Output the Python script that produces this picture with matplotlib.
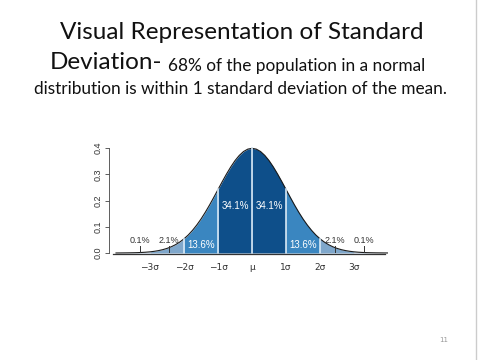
import matplotlib.pyplot as plt
import numpy as np

# density of the curve, x in sigma units (left half, mirrored)
x_half = [0.0, 0.125, 0.25, 0.375, 0.5, 0.625, 0.75, 0.875, 1.0, 1.125, 1.25, 1.375,
          1.5, 1.625, 1.75, 1.875, 2.0, 2.125, 2.25, 2.375, 2.5, 2.625, 2.75, 2.875,
          3.0, 3.125, 3.25, 3.375, 3.5, 3.625, 3.75, 3.875, 4.0]
y_half = [0.3989, 0.3958, 0.3867, 0.3718, 0.3521, 0.3281, 0.3011, 0.2721, 0.242, 0.2119,
          0.1826, 0.155, 0.1295, 0.1066, 0.0863, 0.0687, 0.054, 0.0417, 0.0317, 0.0237,
          0.0175, 0.0127, 0.0091, 0.0064, 0.0044, 0.003, 0.002, 0.0013, 0.0009, 0.0006,
          0.0004, 0.0002, 0.0001]

# shaded bands (sigma limits) and their colours
band_lo = [-4, -3, -2, -1, 0, 1, 2, 3]
band_hi = [-3, -2, -1, 0, 1, 2, 3, 4]
band_col = ["#b3c8dd", "#7fa7cb", "#3a86c0", "#0e4f8a", "#0e4f8a", "#3a86c0", "#7fa7cb", "#b3c8dd"]

tick_pos = [-3, -2, -1, 0, 1, 2, 3]
tick_lab = ["\u22123\u03c3", "\u22122\u03c3", "\u22121\u03c3", "\u03bc", "1\u03c3", "2\u03c3", "3\u03c3"]

pct_inside = ["13.6%", "34.1%", "34.1%", "13.6%"]
pct_inside_x = [-1.5, -0.5, 0.5, 1.5]
pct_inside_y = [0.03, 0.18, 0.18, 0.03]
pct_out = ["0.1%", "2.1%", "2.1%", "0.1%"]
pct_out_x = [-3.3, -2.45, 2.45, 3.3]

xs = np.array([-v for v in x_half[:0:-1]] + x_half)
ys = np.array(y_half[:0:-1] + y_half)

fig = plt.figure(figsize=(4.8, 3.6), dpi=100)
fig.patch.set_facecolor("white")

# slide text
fig.text(0.503, 0.91, "Visual Representation of Standard", ha="center", va="center",
         fontsize=17.5, family="Lato", color="#111111")
fig.text(0.339, 0.826, "Deviation-", ha="right", va="center",
         fontsize=17.5, family="Lato", color="#111111")
fig.text(0.351, 0.818, "68% of the population in a normal", ha="left", va="center",
         fontsize=12.4, family="Lato", color="#111111")
fig.text(0.502, 0.752, "distribution is within 1 standard deviation of the mean.", ha="center",
         va="center", fontsize=12.4, family="Lato", color="#111111")
fig.text(0.925, 0.055, "11", ha="center", va="center", fontsize=5, color="#999999")
fig.add_artist(plt.Line2D([0.992, 0.992], [0, 1], color="#cccccc", lw=1))

ax = fig.add_axes([0.2275, 0.2936, 0.581, 0.3025])
for lo, hi, c in zip(band_lo, band_hi, band_col):
    m = (xs >= lo) & (xs <= hi)
    ax.fill_between(xs[m], 0, ys[m], color=c, lw=0)
ax.plot(xs, ys, color="#1a1a1a", lw=0.8)

# separators
for b in [-2, -1, 0, 1, 2]:
    ax.plot([b, b], [0, ys[xs == b][0]], color="#d6e8f6", lw=1.2)

for t, px, py in zip(pct_inside, pct_inside_x, pct_inside_y):
    ax.text(px, py, t, ha="center", va="center", color="white", fontsize=7,
            family="Liberation Sans")
for t, px in zip(pct_out, pct_out_x):
    ax.plot([px, px], [0.004, 0.026], color="#333333", lw=0.7)
    ax.text(px, 0.032, t, ha="center", va="bottom", color="#333333", fontsize=6.5,
            family="Liberation Sans")

ax.set_xlim(-4.2, 4.0)
ax.set_ylim(-0.005, 0.41)
ax.set_xticks(tick_pos)
ax.set_xticklabels(tick_lab, fontsize=6.5, color="#333333", family="DejaVu Sans")
ax.set_yticks([0.0, 0.1, 0.2, 0.3, 0.4])
ax.set_yticklabels(["0.0", "0.1", "0.2", "0.3", "0.4"], rotation=90, va="center",
                   fontsize=6.5, color="#333333", family="Liberation Sans")
ax.tick_params(axis="x", length=0, pad=6)
ax.tick_params(axis="y", length=3, width=0.6, color="#444444", pad=2)
for s in ["top", "right"]:
    ax.spines[s].set_visible(False)
ax.spines["left"].set_bounds(0, 0.4)
ax.spines["left"].set_linewidth(0.6)
ax.spines["left"].set_color("#444444")
ax.spines["bottom"].set_bounds(-4.1, 3.9)
ax.spines["bottom"].set_linewidth(0.9)
ax.spines["bottom"].set_color("#333333")
ax.patch.set_visible(False)

fig.savefig("out.png", dpi=100)
